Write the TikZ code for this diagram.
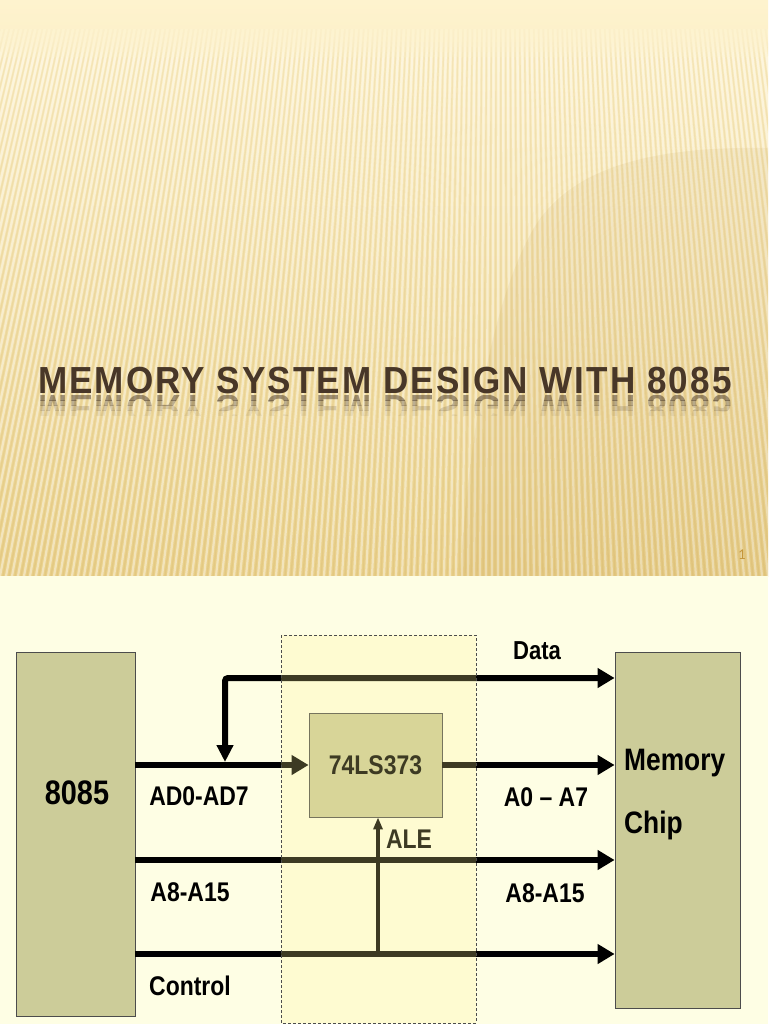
\documentclass[tikz,border=0pt]{standalone}
\usepackage{fontspec}
\setmainfont{Liberation Sans}
\newfontfamily\labelfont[FakeStretch=0.85]{Liberation Sans}
\newfontfamily\titlefont[FakeStretch=0.93, LetterSpace=5.5]{Liberation Sans}
\newfontfamily\pagefont{Carlito}
\usetikzlibrary{arrows.meta, positioning, calc}
\definecolor{slidetop}{RGB}{254,243,206}
\definecolor{slidemid}{RGB}{247,228,168}
\definecolor{slidebottom}{RGB}{233,208,138}
\definecolor{titlebrown}{RGB}{72,55,40}
\definecolor{pagegold}{RGB}{196,150,60}
\definecolor{paper}{RGB}{254,254,228}
\definecolor{chipfill}{RGB}{204,204,153}
\definecolor{latchtint}{RGB}{255,245,150}
\definecolor{blobtone}{RGB}{190,150,70}

\tikzset{
  chipbox/.style={draw=black!70, line width=0.8pt, fill=chipfill, inner sep=0pt},
  bus/.style={line width=6pt, -{Triangle[length=17pt,width=19pt]}},
  busboth/.style={line width=6pt, rounded corners=3pt, {Triangle[length=17pt,width=16pt]}-{Triangle[length=17pt,width=19pt]}},
  ctrl/.style={line width=4pt, -{Triangle[length=12pt,width=9pt]}},
  lbl/.style={inner sep=0pt, font={\labelfont\bfseries\fontsize{27}{30}\selectfont}},
  biglbl/.style={inner sep=0pt, font={\labelfont\bfseries\fontsize{31}{34}\selectfont}},
  title/.style={inner sep=0pt, text=titlebrown, font={\titlefont\bfseries\fontsize{37.7}{40}\selectfont}},
}

\begin{document}
\begin{tikzpicture}[x=1pt, y=-1pt]
  \useasboundingbox (0,0) rectangle (768,1024);

  % Title slide background
  \shade[top color=slidetop, middle color=slidemid, bottom color=slidebottom] (0,0) rectangle (768,576);

  % Stripes
  \begin{scope}
    \clip (0,30) rectangle (768,576);
    \foreach \i in {0,...,200} {
      \draw[white, opacity=0.42, line width=2.2pt] (500,-2000) -- ({-300+6*\i},576);
      \draw[blobtone, opacity=0.12, line width=1.4pt] (500,-2000) -- ({-297+6*\i},576);
    }
  \end{scope}
  \foreach \k in {0,...,5} {
    \fill[slidetop, opacity=0.25] (0,0) rectangle (768,{32+5*\k});
  }

  % Shadow on the right
  \fill[blobtone, opacity=0.10] (768,148) .. controls (650,146) and (565,168) .. (530,235)
    .. controls (495,300) and (470,420) .. (460,576) -- (768,576) -- cycle;

  % Title and its reflection
  \node[title, anchor=base west] (title) at (38,393) {MEMORY SYSTEM DESIGN WITH 8085};
  \foreach \ya/\yb/\op in {395/400/0.5, 400/405/0.33, 405/410/0.18, 410/415/0.08} {
    \begin{scope}
      \clip (0,\ya) rectangle (768,\yb);
      \node[title, anchor=base west, yscale=-1, opacity=\op] (titlemirror) at (38,395) {MEMORY SYSTEM DESIGN WITH 8085};
    \end{scope}
  }

  % Page number
  \node[text=pagegold, font={\pagefont\fontsize{15}{17}\selectfont}] (pageno) at (742,555) {1};

  % Diagram panel
  \fill[paper] (0,576) rectangle (768,1024);

  % Blocks
  \node[chipbox, minimum width=119, minimum height=364] (cpu) at (75.5,834) {};
  \node[biglbl, font={\labelfont\bfseries\fontsize{34}{36}\selectfont}] (cpulbl) at (77,793) {8085};
  \node[chipbox, minimum width=125, minimum height=356] (mem) at (677.5,830) {};
  \node[biglbl, anchor=base west] (memlbl) at (624,770) {Memory};
  \node[biglbl, anchor=base west] (chiplbl) at (624,833) {Chip};
  \node[chipbox, minimum width=133, minimum height=104, lbl] (latch) at (375.5,765) {74LS373};

  % Buses
  \coordinate (adtap) at (225,762);
  \coordinate (datay) at (0,678);
  \coordinate (hiy) at (0,860);
  \coordinate (ctly) at (0,954);
  \coordinate (aletap) at (378,954);
  \draw[bus] (cpu.east |- latch.west) -- (latch.west);
  \draw[busboth] (adtap) |- (mem.west |- datay);
  \draw[bus] (latch.east) -- (mem.west |- latch.east);
  \draw[bus] (cpu.east |- hiy) -- (mem.west |- hiy);
  \draw[bus] (cpu.east |- ctly) -- (mem.west |- ctly);
  \draw[ctrl] (aletap) -- (aletap |- latch.south);

  % Labels
  \node[lbl] (adlbl) at (199,796) {AD0-AD7};
  \node[lbl, font={\labelfont\bfseries\fontsize{26}{30}\selectfont}] (datalbl) at (537,651) {Data};
  \node[lbl] (lolbl) at (546,797) {A0 – A7};
  \node[lbl] (alelbl) at (409,839) {ALE};
  \node[lbl] (hilbl) at (190,892) {A8-A15};
  \node[lbl] (hilblr) at (545,893) {A8-A15};
  \node[lbl] (ctllbl) at (190,986) {Control};

  % Latch area
  \fill[latchtint, opacity=0.24] (281,635) rectangle (476,1023);
  \draw[black!70, line width=0.7pt, dash pattern=on 3pt off 2pt] (281,635) rectangle (476,1023);
\end{tikzpicture}
\end{document}
